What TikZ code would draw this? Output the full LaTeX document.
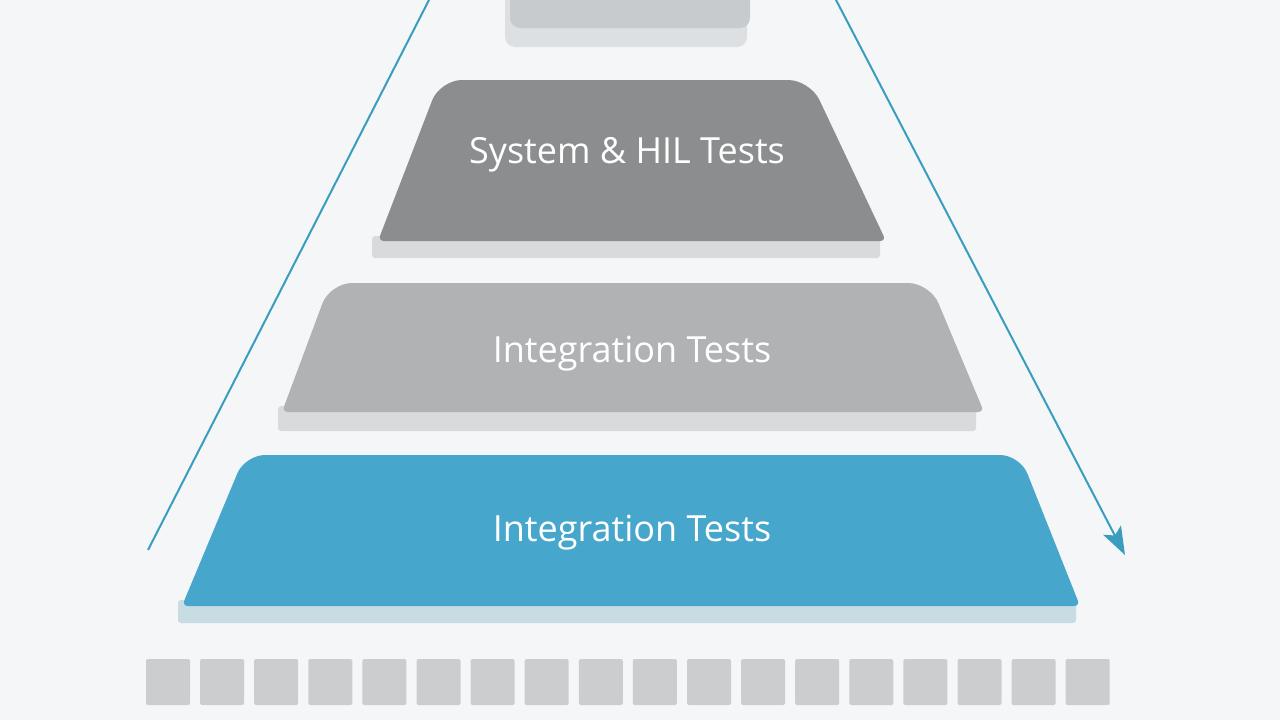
\documentclass[tikz,border=0pt]{standalone}
\usepackage{fontspec}
\setmainfont{Open Sans}
\usetikzlibrary{arrows.meta}
\definecolor{bg}{HTML}{F5F6F7}
\definecolor{topc}{HTML}{C8CBCE}
\definecolor{tops}{HTML}{DDE0E2}
\definecolor{sysc}{HTML}{8C8D8E}
\definecolor{intc}{HTML}{B0B2B4}
\definecolor{grs}{HTML}{D8DADC}
\definecolor{bluec}{HTML}{47A6CB}
\definecolor{blues}{HTML}{C8DCE3}
\definecolor{linec}{HTML}{3A9DC0}
\definecolor{sq}{HTML}{CBCDCF}
\tikzset{lbl/.style={text=white,font=\fontsize{36}{40}\selectfont},
  conn/.style={draw=linec,line width=2pt}}
\begin{document}
\begin{tikzpicture}[x=1pt,y=-1pt]
\fill[bg] (0,0) rectangle (1280,720);
\useasboundingbox (0,0) rectangle (1280,720);
% top block
\fill[tops,rounded corners=10] (505,-20) rectangle (747,47);
\fill[topc,rounded corners=10] (510,-30) rectangle (750,28);
% system
\fill[grs,rounded corners=3] (372,236) rectangle (880,258);
\fill[sysc] [rounded corners=6] (378,241) [rounded corners=22] -- (440,80) -- (810,80) [rounded corners=6] -- (886,241) -- cycle;
\node[lbl] (sys) at (627,155) {System \& HIL Tests};
% integration
\fill[grs,rounded corners=3] (278,406) rectangle (976,431);
\fill[intc] [rounded corners=6] (282,412) [rounded corners=22] -- (330,283) -- (930,283) [rounded corners=6] -- (984,412) -- cycle;
\node[lbl] (int1) at (632,354) {Integration Tests};
% blue
\fill[blues,rounded corners=3] (178,600) rectangle (1076,623);
\fill[bluec] [rounded corners=6] (182,606) [rounded corners=20] -- (245,455) -- (1020,455) [rounded corners=6] -- (1080,606) -- cycle;
\node[lbl] (int2) at (632,533) {Integration Tests};
% squares
\foreach \i in {0,...,17}{
  \fill[sq,rounded corners=2] ({146+\i*54.1},659) rectangle ({190+\i*54.1},705);
}
% lines
\coordinate (l1) at (148,550); \coordinate (l2) at (430,-2);
\coordinate (r1) at (835,-2); \coordinate (r2) at (1125,555);
\draw[conn] (l1) -- (l2);
\draw[conn,-{Stealth[length=28pt,width=20pt,inset=6pt]}] (r1) -- (r2);
\end{tikzpicture}
\end{document}
